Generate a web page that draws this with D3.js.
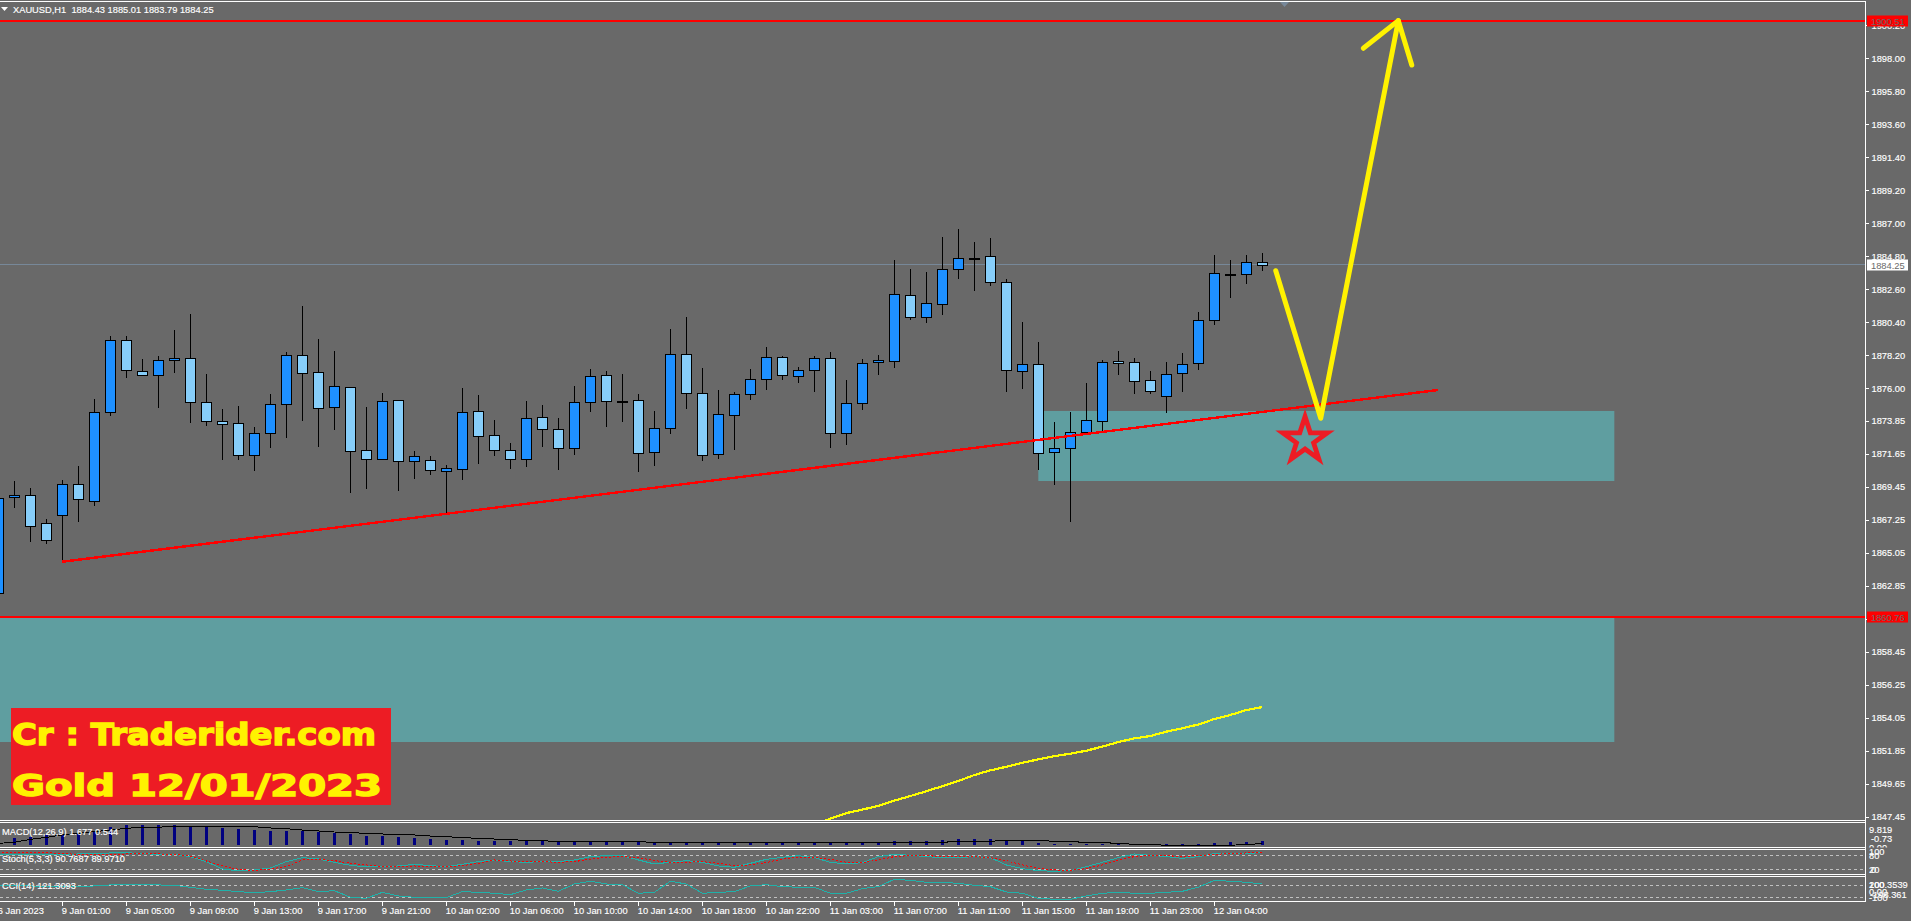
<!DOCTYPE html>
<html>
<head>
<meta charset="utf-8">
<title>XAUUSD,H1</title>
<script src="https://cdn.jsdelivr.net/npm/d3@7"></script>
<style>
  body { margin: 0; background: #696969; overflow: hidden; }
  text { font-family: "Liberation Sans", sans-serif; font-size: 9.3px; fill: #ffffff; stroke: #ffffff; stroke-width: 0.15px; }
</style>
</head>
<body>
<script>
// candle data, first entry is the bar cut off at the left edge
const opens = [1862.33,1868.73,1868.86,1866.99,1867.53,1869.59,1868.46,1874.39,1879.19,1877.13,1876.86,1877.86,1877.99,1875.06,1873.79,1873.66,1871.53,1872.99,1874.93,1878.19,1877.06,1874.73,1876.06,1871.86,1871.26,1875.19,1871.13,1871.19,1870.46,1870.59,1874.46,1872.86,1871.86,1871.26,1874.06,1873.26,1871.99,1875.06,1876.86,1875.15,1875.19,1871.73,1873.33,1878.26,1875.66,1871.59,1874.19,1875.59,1876.59,1878.06,1876.79,1877.19,1877.99,1872.99,1874.99,1877.73,1877.79,1882.19,1880.73,1881.59,1883.93,1884.71,1884.79,1883.06,1877.13,1877.59,1871.73,1871.99,1873.06,1873.79,1877.79,1877.73,1876.53,1875.46,1876.99,1877.66,1880.53,1883.64,1883.59,1884.43];
const highs = [1868.9,1869.82,1869.33,1867.28,1869.88,1870.82,1875.28,1879.48,1879.48,1877.95,1878.15,1879.88,1880.95,1876.95,1874.62,1874.82,1873.39,1875.62,1878.39,1881.48,1879.28,1878.48,1876.06,1874.75,1875.68,1875.19,1871.82,1871.48,1870.88,1876.02,1875.55,1873.88,1872.35,1875.15,1874.88,1874.02,1876.15,1877.28,1877.15,1876.95,1875.62,1874.48,1879.95,1880.75,1877.35,1875.88,1875.75,1877.28,1878.75,1878.15,1877.39,1878.15,1878.42,1876.55,1877.95,1878.22,1884.55,1883.95,1883.75,1886.08,1886.62,1885.75,1886.02,1883.26,1880.42,1879.08,1873.75,1874.42,1876.35,1877.86,1878.48,1878.02,1877.15,1877.75,1878.35,1881.08,1884.88,1884.55,1884.88,1885.01];
const lows = [1862.2,1868.04,1865.77,1865.64,1864.44,1867.11,1868.17,1874.17,1876.71,1876.86,1874.71,1877.04,1873.71,1873.51,1871.24,1871.24,1870.51,1872.04,1872.71,1873.84,1872.11,1873.24,1869.04,1869.31,1871.26,1869.17,1869.97,1870.24,1867.66,1869.91,1870.97,1871.51,1870.64,1870.77,1872.11,1870.57,1871.57,1874.44,1873.44,1873.77,1870.44,1870.84,1872.97,1874.62,1871.17,1871.31,1871.91,1875.24,1875.88,1876.55,1876.37,1875.77,1872.04,1872.24,1874.57,1876.91,1877.37,1880.57,1880.37,1880.91,1883.31,1882.51,1882.84,1875.77,1875.97,1870.57,1869.57,1867.11,1872.86,1873.06,1876.91,1875.64,1875.64,1874.37,1875.77,1877.24,1880.24,1882.04,1882.97,1883.79];
const closes = [1868.66,1868.86,1866.79,1865.86,1869.59,1868.59,1874.39,1879.19,1877.19,1876.86,1877.86,1877.99,1875.06,1873.79,1873.59,1871.53,1872.99,1874.93,1878.19,1876.99,1874.66,1876.13,1871.79,1871.26,1875.13,1871.13,1871.46,1870.53,1870.66,1874.39,1872.79,1871.86,1871.26,1873.99,1873.26,1871.99,1875.06,1876.79,1875.13,1875.15,1871.66,1873.33,1878.26,1875.66,1871.53,1874.26,1875.59,1876.59,1878.06,1876.86,1877.19,1877.99,1872.99,1874.99,1877.66,1877.86,1882.26,1880.73,1881.66,1883.93,1884.66,1884.71,1883.06,1877.19,1877.59,1871.66,1871.99,1873.06,1873.86,1877.73,1877.66,1876.46,1875.79,1876.93,1877.59,1880.53,1883.66,1883.64,1884.39,1884.25];

// moving average, starts at bar 51
const maStart = 51;
const maValues = [1846.88,1847.31,1847.68,1847.91,1848.17,1848.51,1848.82,1849.13,1849.48,1849.82,1850.22,1850.53,1850.77,1851.04,1851.26,1851.48,1851.64,1851.84,1852.11,1852.42,1852.66,1852.82,1853.11,1853.33,1853.59,1853.95,1854.22,1854.55,1854.75];

// indicators
const macdHist = [2.5,2.85,3.56,4.27,4.27,4.98,5.69,7.83,8.54,8.54,8.54,8.54,7.83,7.83,7.26,6.83,6.4,5.98,5.98,5.98,5.55,5.12,4.55,3.84,3.84,3.42,2.99,2.56,2.13,2.13,1.71,1.57,1.57,1.71,1.71,1.42,1.42,1.42,1.42,1.42,1.42,1,1,1,1,1,1,1,1,1,1,1,1,1,1,1,1.71,1.71,1.71,2.13,2.56,2.56,2.56,1.71,1.71,0.85,0.43,0.14,0.14,0.14,0.14,0.14,0.14,0,0,0.57,0.85,1.28,1.28,1.677];
const macdSignal = [0.71,1.14,2.42,3.27,4.27,4.98,5.69,6.4,7.12,7.54,7.54,8.11,8.11,8.11,8.11,7.83,7.83,7.26,6.97,6.4,5.98,5.55,5.27,4.98,4.7,4.55,4.27,3.84,3.56,3.13,2.85,2.56,2.42,1.85,1.85,1.42,1.42,1.42,1.42,1.42,1.42,1.14,1.14,1.14,1.14,1.14,1.14,1.14,1.14,1.14,1.14,1.14,1.14,1.14,1.14,1.14,1.14,1.14,1.14,1.14,1.57,1.57,1.57,1.99,1.99,1.99,1.57,1.57,1,1,0.71,0.28,0.28,-0.14,-0.14,-0.14,-0.14,-0.14,0.28,0.544];
const stochK = [84.3,84.3,84.3,84.3,84.3,85.7,87.1,90,91.4,87.1,84.3,84.3,74.3,52.9,21.4,12.9,17.1,25.7,52.9,70,64.3,50,37.1,30,31.4,34.3,41.4,35.7,31.4,41.4,52.9,60,52.9,50,52.9,52.9,60,74.3,78.6,78.6,60,42.9,50,57.1,50,34.3,28.6,45.7,62.9,71.4,78.6,70,50,42.9,48.6,74.3,84.3,80,74.3,70,70,74.3,70,38.6,22.9,14.3,11.4,14.3,31.4,50,70,85.7,80,74.3,67.1,74.3,87.1,88.6,88.6,90.7687];
const stochD = [92.9,92.9,92.9,91.4,87.1,84.3,82.9,84.3,85.7,85.7,85.7,84.3,75.7,55.7,34.3,20,14.3,21.4,31.4,60,62.9,57.1,45.7,38.6,31.4,31.4,34.3,31.4,31.4,35.7,45.7,60,55.7,52.9,52.9,50,52.9,62.9,71.4,74.3,70,57.1,50,50,52.9,45.7,35.7,38.6,48.6,64.3,71.4,70,62.9,50,48.6,60,74.3,78.6,78.6,74.3,72.9,74.3,70,57.1,38.6,24.3,17.1,15.7,22.9,38.6,60,74.3,78.6,78.6,74.3,78.6,84.3,87.1,90,89.971];
const cciValues = [89,89,89,83,78,78,89,106,111,111,106,100,67,33,17,-6,-22,-6,22,61,-6,11,-100,-117,-17,-78,-100,-100,-106,-6,-17,-33,-56,22,56,0,122,167,122,111,-33,-17,167,122,-33,-17,-6,89,111,78,67,67,-33,-33,44,78,200,183,150,150,133,100,78,-11,-33,-117,-133,-133,-78,-33,-17,-33,-33,-17,0,67,183,167,150,121.31];

// labels
const timeLabels = ["6 Jan 2023","9 Jan 01:00","9 Jan 05:00","9 Jan 09:00","9 Jan 13:00","9 Jan 17:00","9 Jan 21:00","10 Jan 02:00","10 Jan 06:00","10 Jan 10:00","10 Jan 14:00","10 Jan 18:00","10 Jan 22:00","11 Jan 03:00","11 Jan 07:00","11 Jan 11:00","11 Jan 15:00","11 Jan 19:00","11 Jan 23:00","12 Jan 04:00"];
const priceTicks = [1900.20,1898.00,1895.80,1893.60,1891.40,1889.20,1887.00,1884.80,1882.60,1880.40,1878.20,1876.00,1873.85,1871.65,1869.45,1867.25,1865.05,1862.85,1860.65,1858.45,1856.25,1854.05,1851.85,1849.65,1847.45];

// drawn objects as [bar, price]
const hLevels = [1900.51, 1860.76];
const bidPrice = 1884.25;
const zones = [[65, 101, 1874.49, 1869.82], [0, 101, 1860.76, 1852.42]];
const trendLine = [[4, 1864.44], [90, 1875.89]];
const arrowShaft = [[79.84, 1883.84], [82.65, 1874.0], [87.5, 1900.51]];
const arrowHead = [[85.31, 1898.67], [87.5, 1900.51], [88.34, 1897.55]];
const starPos = [81.67, 1872.55];

const width = 1911;
const height = 921;
const chartRight = 1865;

const x = d3.scaleLinear().domain([0, 79]).range([-1.67, 1262.33]);
const y = d3.scaleLinear().domain([1898, 1848]).range([58.3, 808.3]);
const yMacd = d3.scaleLinear().domain([0, 9.819]).range([845, 822]);
const yStoch = d3.scaleLinear().domain([20, 80]).range([869.3, 855.3]);
const yCci = d3.scaleLinear().domain([-100, 100]).range([897.3, 885.3]);

const px = v => Math.floor(v) + 0.5;

const svg = d3.select("body").append("svg")
    .attr("width", width)
    .attr("height", height)
    .style("display", "block");

svg.append("rect").attr("width", width).attr("height", height).attr("fill", "#696969");

// clip areas of the windows
const panels = [
  { id: "main", top: 1, bottom: 820 },
  { id: "macd", top: 822, bottom: 847 },
  { id: "stoch", top: 849, bottom: 874 },
  { id: "cci", top: 876, bottom: 901 }
];
const defs = svg.append("defs");
panels.forEach(p => {
  defs.append("clipPath").attr("id", "clip-" + p.id).append("rect")
      .attr("x", 0).attr("y", p.top).attr("width", chartRight).attr("height", p.bottom - p.top);
});

const main = svg.append("g").attr("clip-path", "url(#clip-main)");

main.selectAll(".zone").data(zones).join("rect")
    .attr("class", "zone")
    .attr("x", d => x(d[0]))
    .attr("width", d => x(d[1]) - x(d[0]))
    .attr("y", d => y(d[2]))
    .attr("height", d => y(d[3]) - y(d[2]))
    .attr("fill", "#5f9ea0");

main.append("line")
    .attr("x1", 0).attr("x2", chartRight)
    .attr("y1", px(y(bidPrice))).attr("y2", px(y(bidPrice)))
    .attr("stroke", "#778899");

// candles
const candles = main.append("g").attr("shape-rendering", "crispEdges")
    .selectAll("g").data(opens.map((o, i) => i)).join("g");

candles.append("line")
    .attr("x1", i => px(x(i))).attr("x2", i => px(x(i)))
    .attr("y1", i => Math.round(y(highs[i])))
    .attr("y2", i => Math.round(y(lows[i])))
    .attr("stroke", "#000");

candles.append("rect")
    .attr("x", i => px(x(i)) - 5)
    .attr("width", 10)
    .attr("y", i => Math.round(y(Math.max(opens[i], closes[i]))) + 0.5)
    .attr("height", i => Math.max(1, Math.round(Math.abs(opens[i] - closes[i]) * 15)))
    .attr("fill", i => closes[i] >= opens[i] ? "#1e90ff" : "#87cefa")
    .attr("stroke", "#000");

// moving average and drawn lines
const line = d3.line().x(d => x(d[0])).y(d => y(d[1]));

main.append("path")
    .datum(maValues.map((v, i) => [maStart + i, v]))
    .attr("d", line)
    .attr("fill", "none")
    .attr("stroke", "#ffff00")
    .attr("stroke-width", 2.2)
    .attr("shape-rendering", "crispEdges");

main.append("path")
    .datum(trendLine)
    .attr("d", line)
    .attr("fill", "none")
    .attr("stroke", "#ff0000")
    .attr("stroke-width", 2.4)
    .attr("shape-rendering", "crispEdges");

hLevels.forEach(v => {
  main.append("line")
      .attr("x1", 0).attr("x2", chartRight)
      .attr("y1", Math.round(y(v))).attr("y2", Math.round(y(v)))
      .attr("stroke", "#ff0000")
      .attr("stroke-width", 2);
});

// hand drawn arrow and star
[arrowShaft, arrowHead].forEach(pts => {
  main.append("path")
      .datum(pts)
      .attr("d", line)
      .attr("fill", "none")
      .attr("stroke", "#fff200")
      .attr("stroke-width", 5)
      .attr("stroke-linecap", "round")
      .attr("stroke-linejoin", "round");
});

main.append("path")
    .attr("d", d3.symbol(d3.symbolStar, 620)())
    .attr("transform", `translate(${x(starPos[0])},${y(starPos[1])})`)
    .attr("fill", "none")
    .attr("stroke", "#ed1c24")
    .attr("stroke-width", 4.8);

// chart shift marker
svg.append("path")
    .attr("d", "M1280,2 L1289,2 L1284.5,7 Z")
    .attr("fill", "#778899");

// watermark
svg.append("rect")
    .attr("x", 11).attr("y", 708).attr("width", 380).attr("height", 97)
    .attr("fill", "#ed1c24");

[["Cr : Traderider.com", 745, 364], ["Gold 12/01/2023", 796, 370]].forEach(t => {
  svg.append("text")
      .attr("x", 12).attr("y", t[1])
      .attr("textLength", t[2])
      .attr("lengthAdjust", "spacingAndGlyphs")
      .style("font-family", "'DejaVu Sans', sans-serif")
      .style("font-weight", "bold")
      .style("font-size", "31px")
      .style("fill", "#fff200")
      .style("stroke", "#fff200")
      .style("stroke-width", "1.4px")
      .text(t[0]);
});

// MACD window
const macd = svg.append("g").attr("clip-path", "url(#clip-macd)");
macd.selectAll("rect").data(macdHist).join("rect")
    .attr("x", (d, i) => px(x(i)) - 1.5)
    .attr("width", 3)
    .attr("y", d => Math.min(yMacd(d), 844))
    .attr("height", d => Math.max(1, yMacd(0) - yMacd(d)))
    .attr("fill", "#000080")
    .attr("shape-rendering", "crispEdges");

const indexLine = scale => d3.line().x((d, i) => x(i)).y(d => scale(d));

macd.append("path")
    .datum(macdSignal)
    .attr("d", indexLine(yMacd))
    .attr("fill", "none")
    .attr("stroke", "#000")
    .attr("shape-rendering", "crispEdges");

// Stochastic window
const stoch = svg.append("g").attr("clip-path", "url(#clip-stoch)");
[20, 80].forEach(v => {
  stoch.append("line")
      .attr("x1", 0).attr("x2", chartRight)
      .attr("y1", px(yStoch(v))).attr("y2", px(yStoch(v)))
      .attr("stroke", "#c0c0c0")
      .attr("stroke-dasharray", "3,3");
});
stoch.append("path")
    .datum(stochK)
    .attr("d", indexLine(yStoch))
    .attr("fill", "none")
    .attr("stroke", "#20b2aa")
    .attr("shape-rendering", "crispEdges");
stoch.append("path")
    .datum(stochD)
    .attr("d", indexLine(yStoch))
    .attr("fill", "none")
    .attr("stroke", "#ff0000")
    .attr("stroke-dasharray", "2,2")
    .attr("shape-rendering", "crispEdges");

// CCI window
const cci = svg.append("g").attr("clip-path", "url(#clip-cci)");
[-100, 100].forEach(v => {
  cci.append("line")
      .attr("x1", 0).attr("x2", chartRight)
      .attr("y1", px(yCci(v))).attr("y2", px(yCci(v)))
      .attr("stroke", "#c0c0c0")
      .attr("stroke-dasharray", "3,3");
});
cci.append("path")
    .datum(cciValues)
    .attr("d", indexLine(yCci))
    .attr("fill", "none")
    .attr("stroke", "#20b2aa")
    .attr("shape-rendering", "crispEdges");

// frames
const frame = svg.append("g").attr("stroke", "#fff").attr("shape-rendering", "crispEdges");
panels.forEach(p => {
  frame.append("line").attr("x1", 0).attr("x2", chartRight).attr("y1", p.top + 0.5).attr("y2", p.top + 0.5);
  frame.append("line").attr("x1", 0).attr("x2", chartRight).attr("y1", p.bottom + 0.5).attr("y2", p.bottom + 0.5);
});
frame.append("line").attr("x1", chartRight + 0.5).attr("x2", chartRight + 0.5).attr("y1", 1).attr("y2", 902);

// price axis
const priceAxis = svg.append("g")
    .attr("transform", `translate(${chartRight + 0.5},0)`)
    .call(d3.axisRight(y).tickValues(priceTicks).tickFormat(d3.format(".2f")).tickSize(3).tickPadding(3));
priceAxis.select(".domain").remove();
priceAxis.selectAll("line").attr("stroke", "#fff").attr("shape-rendering", "crispEdges");
priceAxis.selectAll("text").attr("fill", null);

// time axis
const timeAxis = svg.append("g")
    .attr("transform", "translate(0,901.5)")
    .call(d3.axisBottom(x)
        .tickValues(timeLabels.map((d, i) => i * 4))
        .tickFormat((d, i) => timeLabels[i])
        .tickSize(4)
        .tickPadding(2));
timeAxis.select(".domain").remove();
timeAxis.selectAll("line").attr("stroke", "#fff").attr("shape-rendering", "crispEdges");
timeAxis.selectAll("text").attr("fill", null).attr("text-anchor", "start").attr("dx", -1);

// price tags
const tag = (v, bg, fg) => {
  const ty = y(v);
  svg.append("rect")
      .attr("x", 1867).attr("y", Math.round(ty) - 5.5)
      .attr("width", 41).attr("height", 11)
      .attr("fill", bg);
  svg.append("text")
      .attr("x", 1871).attr("y", Math.round(ty) + 3.5)
      .style("fill", fg)
      .style("stroke", "none")
      .text(d3.format(".2f")(v));
};
hLevels.forEach(v => tag(v, "#ff0000", "#696969"));
tag(bidPrice, "#ffffff", "#696969");

// window captions
const captions = [
  ["XAUUSD,H1  1884.43 1885.01 1883.79 1884.25", 13, 13],
  ["MACD(12,26,9) 1.677 0.544", 2, 835],
  ["Stoch(5,3,3) 90.7687 89.9710", 2, 862],
  ["CCI(14) 121.3093", 2, 889]
];
svg.selectAll(".caption").data(captions).join("text")
    .attr("class", "caption")
    .attr("x", d => d[1])
    .attr("y", d => d[2])
    .style("white-space", "pre")
    .text(d => d[0]);

svg.append("path").attr("d", "M1,7 L8,7 L4.5,11 Z").attr("fill", "#fff");

// labels of the small windows, they overlap like in the terminal
const sideLabels = [
  ["9.819", 1869, 833],
  ["-0.73", 1871, 842],
  ["100", 1869, 855],
  ["80", 1869, 859],
  ["20", 1869, 873],
  ["0", 1871, 873],
  ["200.3539", 1869, 888],
  ["100", 1869, 888],
  ["0.00", 1869, 895],
  ["-198.361", 1870, 898],
  ["-100", 1869, 901]
];
svg.selectAll(".side").data(sideLabels).join("text")
    .attr("class", "side")
    .attr("x", d => d[1])
    .attr("y", d => d[2])
    .text(d => d[0]);

// clipped label at the bottom of the MACD window
defs.append("clipPath").attr("id", "clip-side").append("rect")
    .attr("x", 1866).attr("y", 840).attr("width", 45).attr("height", 7.5);
svg.append("g").attr("clip-path", "url(#clip-side)").append("text")
    .attr("x", 1869).attr("y", 851)
    .text("0.00");
</script>
</body>
</html>
